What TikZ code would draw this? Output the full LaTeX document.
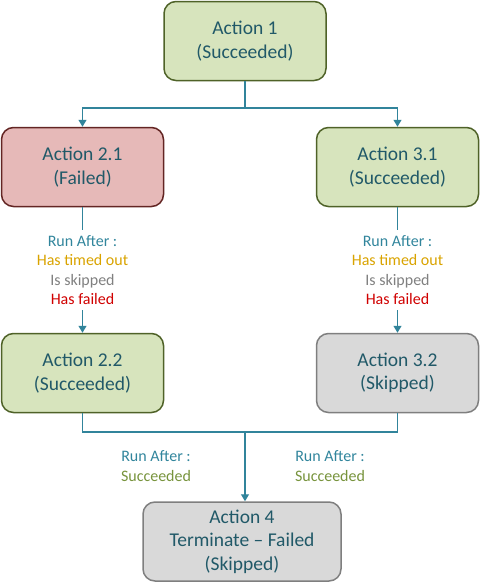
\documentclass[tikz,border=0pt]{standalone}
\usepackage{fontspec}
\setmainfont{Carlito}
\usetikzlibrary{arrows.meta}
\definecolor{gfill}{HTML}{D7E4BD}
\definecolor{gdraw}{HTML}{4F6228}
\definecolor{rfill}{HTML}{E6B9B8}
\definecolor{rdraw}{HTML}{632523}
\definecolor{xfill}{HTML}{D9D9D9}
\definecolor{xdraw}{HTML}{7F7F7F}
\definecolor{txt}{HTML}{215968}
\definecolor{conn}{HTML}{31849B}
\definecolor{runc}{HTML}{31859C}
\definecolor{timec}{HTML}{D9A300}
\definecolor{skipc}{HTML}{808080}
\definecolor{failc}{HTML}{D00000}
\definecolor{succc}{HTML}{77933C}
\tikzset{
  box/.style={rounded corners=12pt, line width=1.5pt, minimum width=162pt, minimum height=79pt,
    align=center, text=txt, font=\fontsize{19.5}{23.5}\selectfont, inner sep=0pt},
  okbox/.style={box, fill=gfill, draw=gdraw},
  failbox/.style={box, fill=rfill, draw=rdraw},
  skipbox/.style={box, fill=xfill, draw=xdraw},
  lbl/.style={align=center, font=\fontsize{16}{19.5}\selectfont, inner sep=0pt, outer sep=0pt},
  conline/.style={draw=conn, line width=1.3pt},
  arr/.style={conline, -{Triangle[width=8pt,length=7pt]}}
}
\begin{document}
\begin{tikzpicture}[x=1pt,y=-1pt]
\useasboundingbox (0,0) rectangle (480,587);
\node[okbox] (a1) at (245,41) {Action 1\\(Succeeded)};
\node[failbox] (a21) at (82.5,167) {Action 2.1\\(Failed)};
\node[okbox] (a31) at (397.5,167) {Action 3.1\\(Succeeded)};
\node[okbox] (a22) at (82.5,373) {Action 2.2\\(Succeeded)};
\node[skipbox] (a32) at (397.5,373) {Action 3.2\\(Skipped)};
\node[skipbox, minimum width=198pt] (a4) at (242,541.5) {Action 4\\Terminate -- Failed\\(Skipped)};
\coordinate (j1) at (245,108);
\coordinate (j2) at (245,432);
\node[lbl, minimum height=80pt] (l21) at (82.5,270) {\textcolor{runc}{Run After :}\\\textcolor{timec}{Has timed out}\\\textcolor{skipc}{Is skipped}\\\textcolor{failc}{Has failed}};
\node[lbl, minimum height=80pt] (l31) at (397.5,270) {\textcolor{runc}{Run After :}\\\textcolor{timec}{Has timed out}\\\textcolor{skipc}{Is skipped}\\\textcolor{failc}{Has failed}};
\node[lbl] (l4a) at (156,466) {\textcolor{runc}{Run After :}\\\textcolor{succc}{Succeeded}};
\node[lbl] (l4b) at (330,466) {\textcolor{runc}{Run After :}\\\textcolor{succc}{Succeeded}};
\draw[conline] (a1.south) -- (j1);
\draw[arr] (j1) -| (a21.north);
\draw[arr] (j1) -| (a31.north);
\draw[conline] (a21.south) -- (l21.north);
\draw[conline] (a31.south) -- (l31.north);
\draw[arr] (l21.south) -- (a22.north);
\draw[arr] (l31.south) -- (a32.north);
\draw[conline] (a22.south) |- (j2);
\draw[conline] (a32.south) |- (j2);
\draw[arr] (j2) -- (j2 |- a4.north);
\end{tikzpicture}
\end{document}
